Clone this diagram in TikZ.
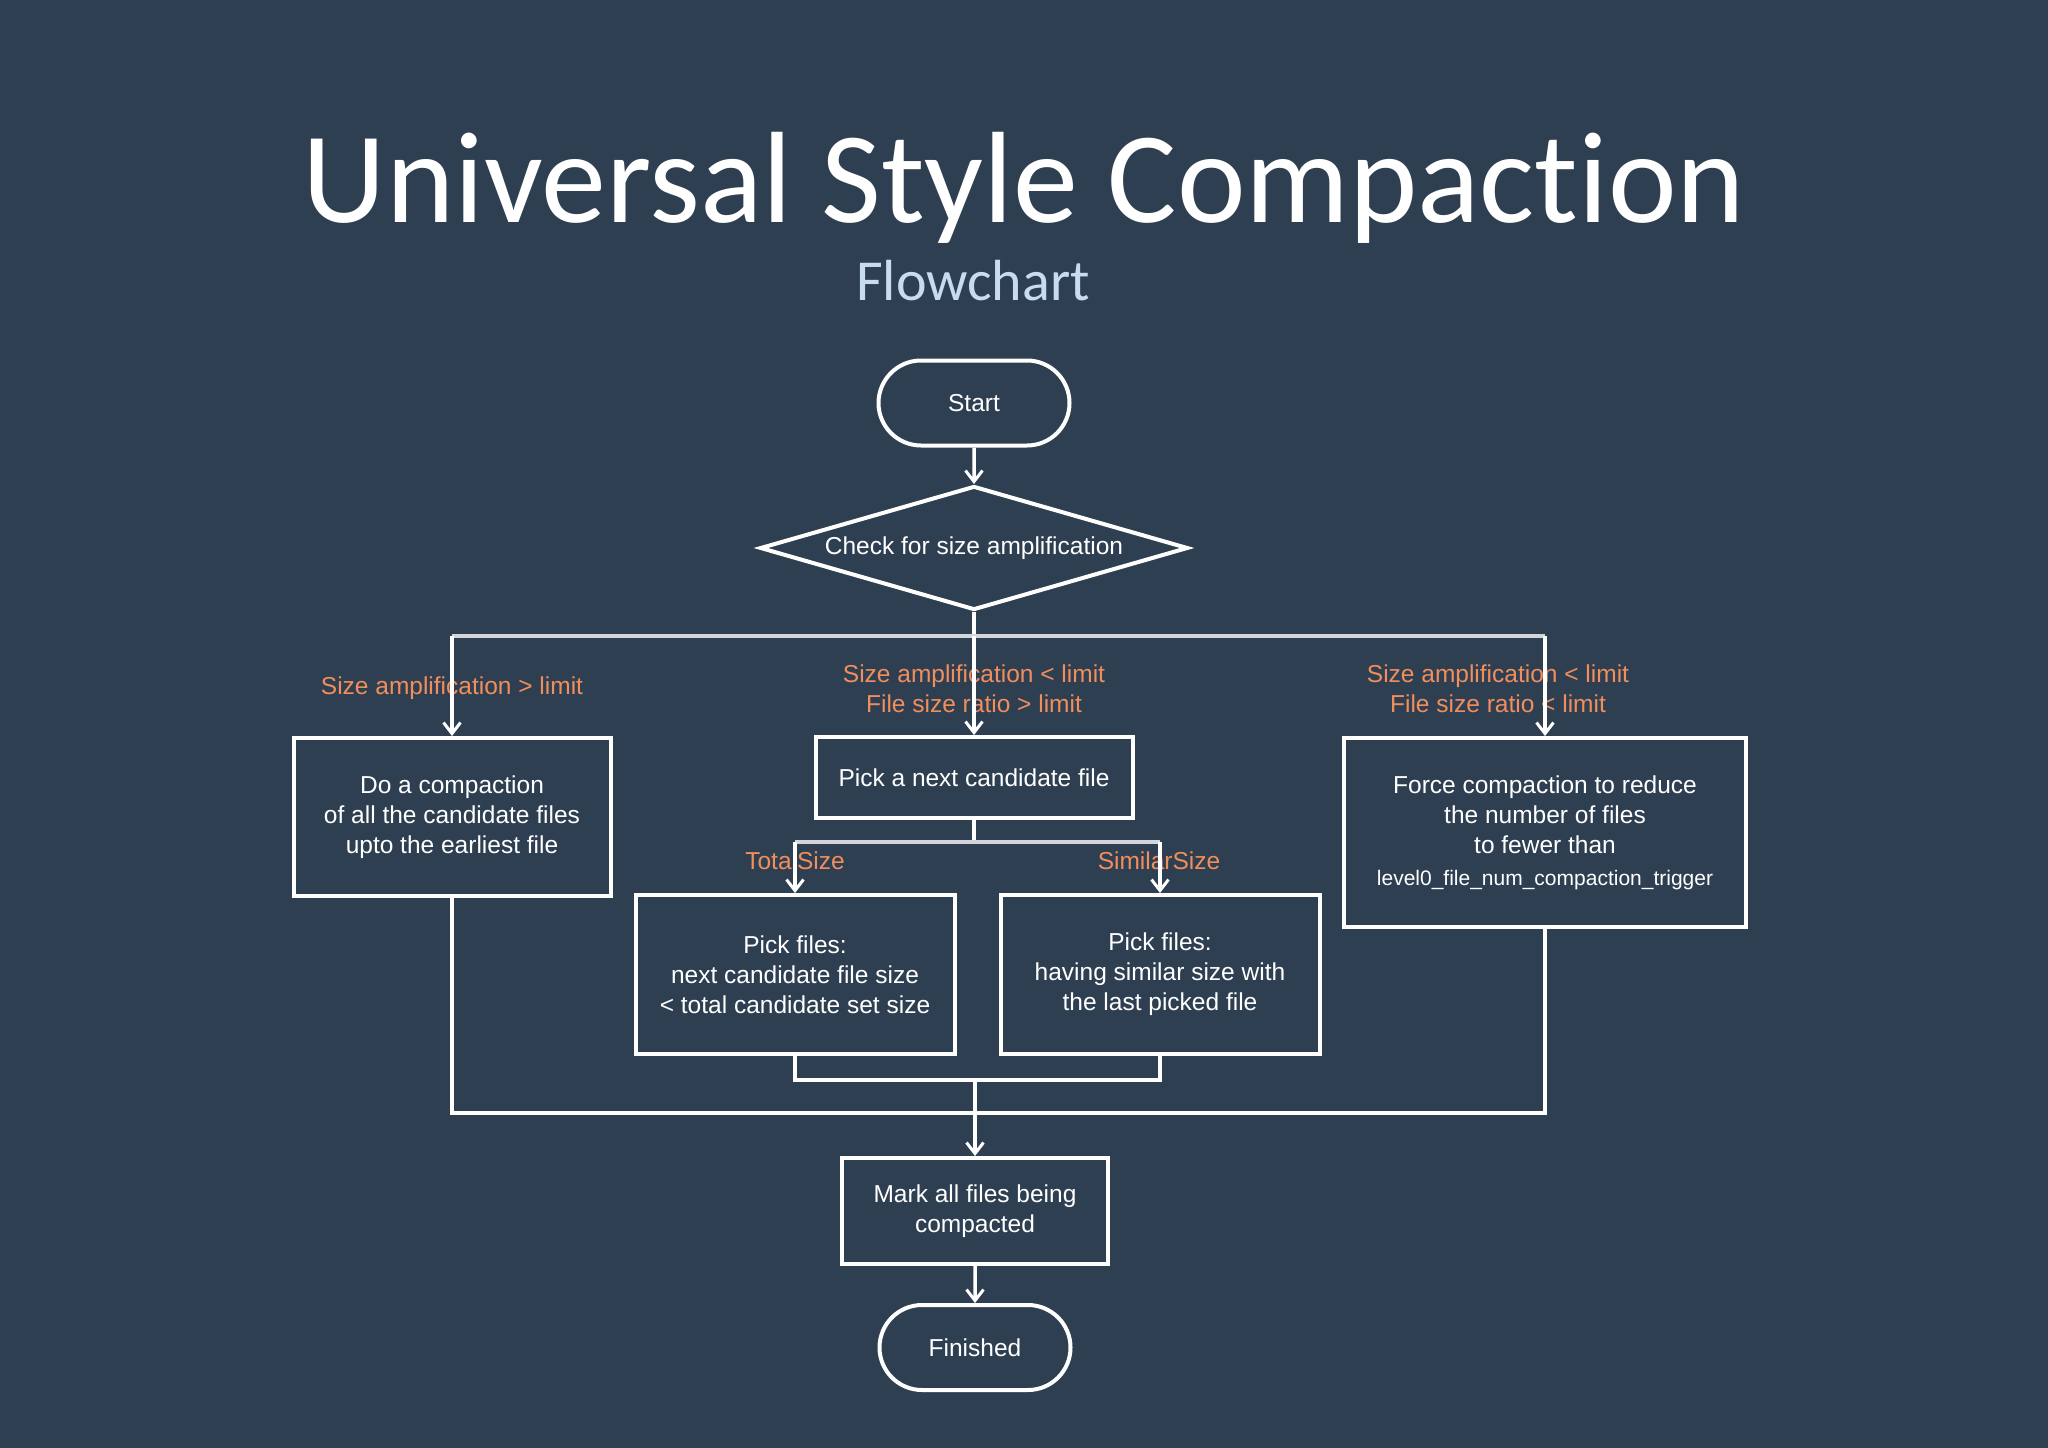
\documentclass[tikz,border=0pt]{standalone}
\usepackage{fontspec}
\setmainfont{Liberation Sans}
\newfontfamily\titlefont[Ligatures=NoCommon]{Carlito}
\usetikzlibrary{shapes.geometric,shapes.misc,arrows.meta}
\definecolor{bg}{RGB}{47,63,82}
\definecolor{lbl}{RGB}{240,142,92}
\definecolor{sub}{RGB}{200,220,240}
\definecolor{bus}{RGB}{210,214,219}
\tikzset{
  boxtext/.style={font=\fontsize{24.5}{30}\selectfont, text=white, align=center},
  procbox/.style={boxtext, draw=white, line width=4pt, rectangle, inner sep=0pt},
  termbox/.style={boxtext, draw=white, line width=4pt, rounded rectangle, inner sep=0pt, minimum width=191pt, minimum height=85pt},
  decbox/.style={boxtext, draw=white, line width=4pt, diamond, shape aspect=3.45, inner sep=0pt, minimum width=428pt, minimum height=124pt},
  cond/.style={font=\fontsize{24.5}{30}\selectfont, text=lbl, align=center},
  conn/.style={draw=white, line width=3.5pt},
  busline/.style={draw=bus, line width=4.5pt},
  arr/.style={conn, -{Straight Barb[length=11pt,width=17pt,line width=3pt]}}
}
\begin{document}
\begin{tikzpicture}[x=1pt,y=-1pt]
\fill[bg] (0,0) rectangle (2048,1448);
\useasboundingbox (0,0) rectangle (2048,1448);

\node[anchor=base, text=white, font=\titlefont\fontsize{130}{140}\selectfont] (title) at (1024,222) {Universal Style Compact\kern0pt ion};
\node[anchor=base, text=sub, font=\titlefont\fontsize{58}{64}\selectfont] (subtitle) at (973,300) {Flowchart};

\node[termbox] (start) at (974,403) {Start};
\node[decbox] (check) at (974,548) {Check for size amplification};

\node[procbox, minimum width=317pt, minimum height=158pt] (full) at (452,817) {Do a compaction\\of all the candidate files\\upto the earliest file};
\node[procbox, minimum width=317pt, minimum height=81pt] (next) at (974,777.5) {Pick a next candidate file};
\node[procbox, minimum width=402pt, minimum height=189pt] (force) at (1545,832.5) {Force compaction to reduce\\the number of files\\to fewer than\\[2pt]{\fontsize{21}{26}\selectfont level0\_file\_num\_compaction\_trigger}};
\node[procbox, minimum width=319pt, minimum height=159pt] (total) at (795,974.5) {Pick files:\\next candidate file size\\< total candidate set size};
\node[procbox, minimum width=319pt, minimum height=159pt] (similar) at (1160,974.5) {Pick files:\\having similar size with\\the last picked file};
\node[procbox, minimum width=266pt, minimum height=106pt] (mark) at (975,1211) {Mark all files being\\compacted};
\node[termbox] (finish) at (975,1347.5) {Finished};

\node[cond] (c1) at (452,688) {Size amplification > limit};
\node[cond] (c2) at (974,689) {Size amplification < limit\\File size ratio > limit};
\node[cond] (c3) at (1498,689) {Size amplification < limit\\File size ratio < limit};
\node[cond] (c4) at (795,861) {TotalSize};
\node[cond] (c5) at (1159,861) {SimilarSize};

\coordinate (b1) at (974,636);
\coordinate (b1l) at (452,636);
\coordinate (b1r) at (1545,636);
\coordinate (b2) at (974,842);
\coordinate (b2l) at (795,842);
\coordinate (b2r) at (1160,842);
\coordinate (m1l) at (795,1080);
\coordinate (m1r) at (1160,1080);
\coordinate (m1) at (975,1080);
\coordinate (m2l) at (452,1113);
\coordinate (m2r) at (1545,1113);

\draw[arr] (start) -- (check);
\draw[conn] (check.south) -- (b1);
\draw[busline] (b1l) -- (b1r);
\draw[arr] (b1l) -- (full.north);
\draw[arr] (b1) -- (next.north);
\draw[arr] (b1r) -- (force.north);

\draw[conn] (next.south) -- (b2);
\draw[busline] (b2l) -- (b2r);
\draw[arr] (b2l) -- (total.north);
\draw[arr] (b2r) -- (similar.north);

\draw[conn] (total.south) -- (m1l) -- (m1r) -- (similar.south);
\draw[conn] (full.south) -- (m2l) -- (m2r) -- (force.south);
\draw[arr] (m1) -- (mark.north);
\draw[arr] (mark) -- (finish);
\end{tikzpicture}
\end{document}
